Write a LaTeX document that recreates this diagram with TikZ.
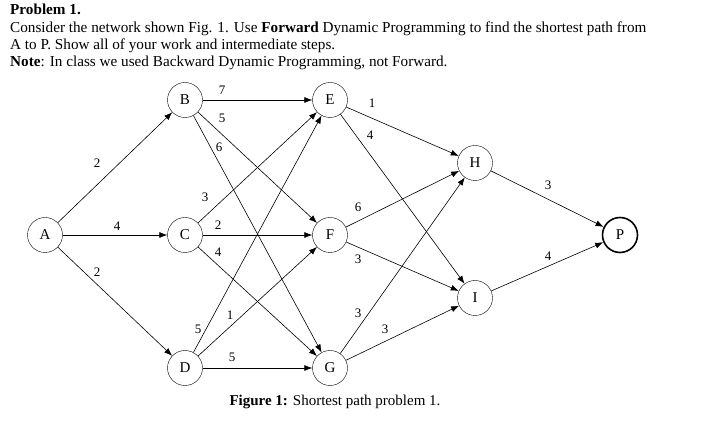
\documentclass[tikz,border=0pt]{standalone}
\usepackage{fontspec}
\setmainfont{Liberation Serif}
\usetikzlibrary{arrows.meta}
\begin{document}
\begin{tikzpicture}[x=1pt,y=-1pt,
  nd/.style={circle,draw,minimum size=35pt,inner sep=0pt,font=\fontsize{15}{16}\selectfont},
  ed/.style={draw,-{Latex[length=8pt,width=6pt]},line width=0.6pt},
  wt/.style={font=\fontsize{13}{14}\selectfont,inner sep=0pt}]
\useasboundingbox (0,0) rectangle (715,427);
\node[anchor=north west,align=left,inner sep=0pt,font=\fontsize{15.2}{17.3}\selectfont] (txt) at (10,4)
 {\textbf{Problem 1.}\\Consider the network shown Fig. 1. Use \textbf{Forward} Dynamic Programming to find the shortest path from\\A to P. Show all of your work and intermediate steps.\\\textbf{Note}: In class we used Backward Dynamic Programming, not Forward.};
\node[nd] (A) at (45,235) {A};
\node[nd] (B) at (185,100) {B};
\node[nd] (C) at (185,235) {C};
\node[nd] (D) at (185,368) {D};
\node[nd] (E) at (330,100) {E};
\node[nd] (F) at (330,235) {F};
\node[nd] (G) at (330,368) {G};
\node[nd] (H) at (475,163) {H};
\node[nd] (I) at (475,298) {I};
\node[nd,line width=1.6pt] (P) at (620,235) {P};
\foreach \a/\b in {A/B,A/C,A/D,B/E,B/F,B/G,C/E,C/F,C/G,D/E,D/F,D/G,E/H,E/I,F/H,F/I,G/H,G/I,H/P,I/P}
  \draw[ed] (\a) -- (\b);
\foreach \t/\x/\y in {2/97/163,4/117/226,2/97/272,7/222/90,5/222/118,6/219/147,3/205/197,2/218/225,4/218/252,5/198/329,1/230/315,5/232/357,1/372/103,4/370/135,6/358/207,3/358/259,3/358/313,3/385/329,3/548/185,4/548/256}
  \node[wt] at (\x,\y) {\t};
\node[font=\fontsize{15}{16}\selectfont] (cap) at (335,402) {\textbf{Figure 1:} Shortest path problem 1.};
\end{tikzpicture}
\end{document}
